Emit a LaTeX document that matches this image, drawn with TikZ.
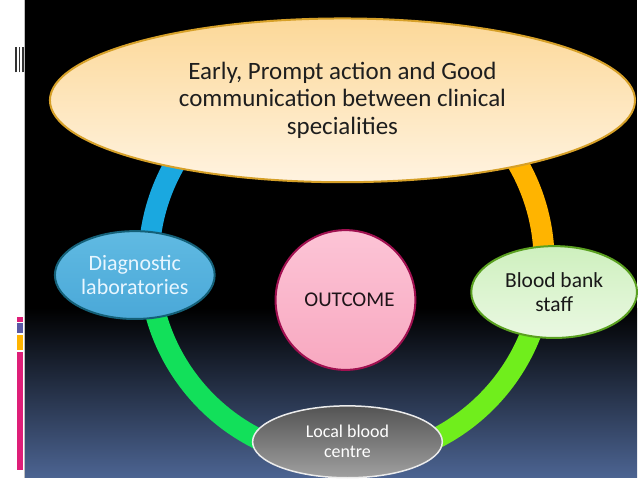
\documentclass[tikz,border=0pt]{standalone}
\usepackage{fontspec}
\setmainfont{Carlito}
\usetikzlibrary{shapes.geometric}

\definecolor{slidebot}{RGB}{76,100,146}
\definecolor{stripe}{RGB}{222,30,120}
\definecolor{ringblue}{RGB}{26,168,224}
\definecolor{ringorange}{RGB}{255,180,0}
\definecolor{ringgreen}{RGB}{18,224,90}
\definecolor{ringlime}{RGB}{112,238,28}

\begin{document}
\begin{tikzpicture}[x=1pt, y=1pt,
    blob/.style={ellipse, inner sep=0pt, align=center, font=\fontsize{22}{24}\selectfont},
    ring/.style={line width=21pt}
]
    % Slide background
    \fill[black] (0,0) rectangle (638,478);
    \shade[top color=black, bottom color=slidebot] (25,0) rectangle (638,170);
    \fill[white] (0,0) rectangle (25,478);
    \draw[gray!50, line width=1pt] (25,0) -- (25,478);

    % Template marks on the strip
    \foreach \x in {16,19.5,23}
        \draw[black!80, line width=1.2pt] (\x,406) -- (\x,431);
    \fill[stripe] (17,156) rectangle (23,161);
    \fill[gray!70!blue] (17,145) rectangle (23,155);
    \fill[ringorange] (17,128) rectangle (23,143);
    \fill[stripe] (17,8) rectangle (23,126);

    % Cycle ring
    \coordinate (ctr) at (347,216);
    \draw[ring, ringorange] (ctr) ++(0:198) arc[start angle=0, end angle=90, radius=198];
    \draw[ring, ringblue] (ctr) ++(90:198) arc[start angle=90, end angle=180, radius=198];
    \draw[ring, ringgreen] (ctr) ++(180:198) arc[start angle=180, end angle=270, radius=198];
    \draw[ring, ringlime] (ctr) ++(270:198) arc[start angle=270, end angle=360, radius=198];

    % Parts of the cycle
    \node[blob, minimum width=586, minimum height=164, draw={rgb,255:red,214;green,160;blue,40}, line width=2pt,
        top color={rgb,255:red,252;green,216;blue,152}, bottom color={rgb,255:red,255;green,243;blue,224},
        font=\fontsize{25}{27.5}\selectfont, text={rgb,255:red,30;green,30;blue,30}] (early) at (343,378)
        {Early, Prompt action and Good\\communication between clinical\\specialities};

    \node[blob, minimum width=160, minimum height=88, draw={rgb,255:red,20;green,96;blue,120}, line width=2pt,
        top color={rgb,255:red,96;green,186;blue,226}, bottom color={rgb,255:red,74;green,168;blue,216},
        text={rgb,255:red,232;green,246;blue,255}] (diag) at (135,203)
        {Diagnostic\\laboratories};

    \node[blob, minimum width=166, minimum height=92, draw={rgb,255:red,90;green,160;blue,32}, line width=2pt,
        top color={rgb,255:red,206;green,240;blue,190}, bottom color={rgb,255:red,234;green,248;blue,226},
        font=\fontsize{21.5}{23.5}\selectfont, text={rgb,255:red,25;green,25;blue,25}] (bank) at (555,186)
        {Blood bank\\staff};

    \node[blob, circle, minimum size=140, draw={rgb,255:red,160;green,16;blue,80}, line width=2pt,
        top color={rgb,255:red,252;green,196;blue,214}, bottom color={rgb,255:red,248;green,168;blue,192},
        font=\fontsize{21}{23}\selectfont, text={rgb,255:red,30;green,20;blue,25}] (outcome) at (346,178)
        {\hspace*{8pt}OUTCOME};

    \node[blob, minimum width=190, minimum height=72, draw=white!85!gray, line width=1.5pt,
        top color={rgb,255:red,84;green,84;blue,84}, bottom color={rgb,255:red,160;green,160;blue,160},
        font=\fontsize{18}{20}\selectfont, text=white] (local) at (348,36)
        {Local blood\\centre};
\end{tikzpicture}
\end{document}
